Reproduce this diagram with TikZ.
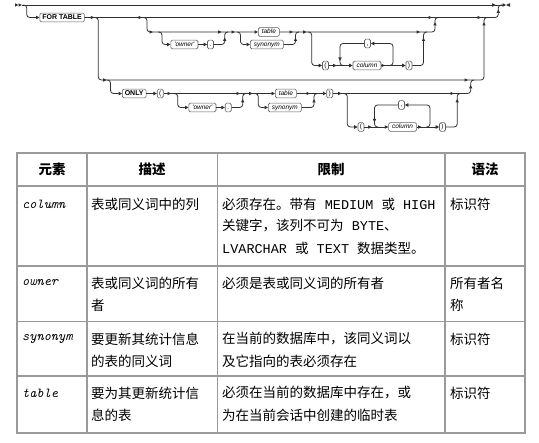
\documentclass[tikz,border=0pt]{standalone}
\usepackage{fontspec}
\newfontfamily\cjk{Noto Sans CJK SC}
\newfontfamily\diag{Liberation Sans}
\newfontfamily\latmono{Liberation Mono}
\usetikzlibrary{arrows.meta}
\definecolor{ln}{HTML}{303030}
\definecolor{boxc}{HTML}{606060}
\definecolor{grid}{HTML}{9A9A9A}
\newcommand{\lat}[1]{{\latmono\relax#1}}
\begin{document}
\begin{tikzpicture}[x=1pt,y=-1pt,
  rail/.style={draw=ln,line width=0.8pt,rounded corners=3pt},
  feed/.style={rail,-{Triangle[length=3.5pt,width=3.4pt]}},
  kw/.style={draw=boxc,line width=0.6pt,rounded corners=1.5pt,fill=white,
    font=\diag\bfseries\fontsize{7}{8}\selectfont,inner xsep=2.5pt,inner ysep=1.3pt,
    text height=5pt,text depth=1.2pt},
  var/.style={kw,font=\diag\itshape\fontsize{6.5}{8}\selectfont,inner xsep=3.5pt},
  sym/.style={kw,font=\diag\fontsize{6.5}{8}\selectfont,inner xsep=1pt,minimum width=6pt},
  rt/.pic={\fill[ln] (0,0) -- (-3.5pt,1.7pt) -- (-3.5pt,-1.7pt) -- cycle;},
  hd/.style={inner sep=0pt,font=\cjk\bfseries\fontsize{13.5}{16}\selectfont},
  txt/.style={anchor=west,inner sep=0pt,font=\cjk\fontsize{13.5}{16}\selectfont},
  elem/.style={anchor=west,inner sep=0pt,font=\ttfamily\itshape\fontsize{13.7}{16}\selectfont},
  cell/.style={draw=grid,line width=1.3pt}]
  \fill[white] (0,0) rectangle (539,443);
  \useasboundingbox (0,0) rectangle (539,443);
  % syntax diagram
  \node[kw,anchor=west] (ft) at (39.5,17.5) {FOR TABLE};
  \node[var,anchor=west] (own1) at (170.5,44.5) {\textquotesingle owner\textquotesingle};
  \node[sym] (dot1) at (210.5,44.5) {.};
  \node[var,anchor=west] (tab1) at (258,32) {table};
  \node[var,anchor=west] (syn1) at (250,44.5) {synonym};
  \node[sym] (lp1) at (325.5,65.5) {(};
  \node[var,anchor=west] (col1) at (352.7,65.5) {column};
  \node[sym] (cm1) at (367.5,43.5) {,};
  \node[sym] (rp1) at (409,65.5) {)};
  \node[kw,anchor=west] (only) at (122,93.5) {ONLY};
  \node[sym] (lp2) at (160.2,93.5) {(};
  \node[var,anchor=west] (own2) at (188.5,107.5) {\textquotesingle owner\textquotesingle};
  \node[sym] (dot2) at (228.2,107.5) {.};
  \node[var,anchor=west] (tab2) at (275,93.5) {table};
  \node[var,anchor=west] (syn2) at (268,107.5) {synonym};
  \node[sym] (rp2) at (329.7,93.5) {)};
  \node[sym] (lp3) at (361,127) {(};
  \node[var,anchor=west] (col2) at (388.3,127) {column};
  \node[sym] (cm2) at (401.5,105) {,};
  \node[sym] (rp3) at (442.5,127) {)};
  % main line
  \pic at (18.5,5) {rt};
  \pic at (22,5) {rt};
  \draw[feed] (22,5) -- (506,5);
  \fill[ln] (506,5) -- (510,3.2) -- (510,6.8) -- cycle;
  \draw[feed] (23,5) -- (26.7,5) -- (26.7,17.5) -- (ft.west);
  \draw[rail] (ft.east) -- (498.3,17.5) -- (498.3,5) -- (502,5);
  % table or synonym
  \draw[feed] (143,17.5) -- (147,17.5) -- (147,32) -- (tab1.west);
  \draw[feed] (158,32) -- (162,32) -- (162,44.5) -- (own1.west);
  \draw[feed] (own1.east) -- (dot1.west);
  \draw[rail] (dot1.east) -- (224.7,44.5) -- (224.7,32) -- (228,32);
  \draw[feed] (237,32) -- (240.5,32) -- (240.5,44.5) -- (syn1.west);
  \draw[rail] (tab1.east) -- (435,32) -- (435,17.5) -- (438,17.5);
  \draw[rail] (syn1.east) -- (295.5,44.5) -- (295.5,32) -- (299,32);
  \draw[feed] (308,32) -- (311.7,32) -- (311.7,65.5) -- (lp1.west);
  \draw[feed] (lp1.east) -- (col1.west);
  \draw[feed] (col1.east) -- (rp1.west);
  \draw[feed] (389,65.5) -- (393,65.5) -- (393,43.5) -- (cm1.east);
  \draw[rail] (cm1.west) -- (340,43.5) -- (340,65.5) -- (344,65.5);
  \draw[rail] (rp1.east) -- (423.5,65.5) -- (423.5,32) -- (427,32);
  % ONLY
  \draw[rail] (95,17.5) -- (98.3,17.5) -- (98.3,80) -- (484,80) -- (484,17.5) -- (487,17.5);
  \draw[feed] (107,80) -- (110.5,80) -- (110.5,93.5) -- (only.west);
  \draw[feed] (only.east) -- (lp2.west);
  \draw[feed] (lp2.east) -- (tab2.west);
  \draw[feed] (174,93.5) -- (177.7,93.5) -- (177.7,107.5) -- (own2.west);
  \draw[feed] (own2.east) -- (dot2.west);
  \draw[rail] (dot2.east) -- (242.7,107.5) -- (242.7,93.5) -- (246,93.5);
  \draw[feed] (255,93.5) -- (258.3,93.5) -- (258.3,107.5) -- (syn2.west);
  \draw[feed] (tab2.east) -- (rp2.west);
  \draw[rail] (syn2.east) -- (314,107.5) -- (314,93.5) -- (317,93.5);
  \draw[rail] (rp2.east) -- (470.7,93.5) -- (470.7,80) -- (474,80);
  \draw[feed] (344,93.5) -- (347.3,93.5) -- (347.3,127) -- (lp3.west);
  \draw[feed] (lp3.east) -- (col2.west);
  \draw[feed] (col2.east) -- (rp3.west);
  \draw[feed] (426,127) -- (430,127) -- (430,105) -- (cm2.east);
  \draw[rail] (cm2.west) -- (374.5,105) -- (374.5,127) -- (378,127);
  \draw[rail] (rp3.east) -- (457.2,127) -- (457.2,93.5) -- (460.5,93.5);
  % arrow marks along the lines
  \foreach \p in {(94.3,17.5),(142,17.5),(432,17.5),(481,17.5),(495.7,5),
    (153,32),(221.7,32),(235,32),(293,32),(306.7,32),(420,32),
    (336.7,65.5),(385,65.5),(106.7,80),(468,80),
    (171,93.5),(240,93.5),(252.7,93.5),(310,93.5),(341.7,93.5),(454,93.5),
    (371.7,127),(421.7,127)}
    \pic at \p {rt};
  \foreach \p in {(498.3,9.5),(435,22),(484,22),(224.7,37.5),(295.5,37.5),
    (423.5,37.5),(470.7,85),(242.7,99),(314,99),(457.2,99)}
    \pic[rotate=90] at \p {rt};
  \pic[rotate=-90] at (340,61) {rt};
  \pic[rotate=-90] at (374.5,122.5) {rt};
  % table
  \draw[cell] (17,153) rectangle (525,433);
  \draw[cell] (17,186) -- (525,186);
  \draw[cell] (17,266) -- (525,266);
  \draw[cell] (17,321.5) -- (525,321.5);
  \draw[cell] (17,376) -- (525,376);
  \draw[cell] (87,153) -- (87,433);
  \draw[cell] (217.5,153) -- (217.5,433);
  \draw[cell] (445,153) -- (445,433);
  \node[hd] (h1) at (52,169.5) {元素};
  \node[hd] (h2) at (152,169.5) {描述};
  \node[hd] (h3) at (331,169.5) {限制};
  \node[hd] (h4) at (485,169.5) {语法};
  \node[elem] (e1) at (22,204) {column};
  \node[txt] (d1) at (91,204) {表或同义词中的列};
  \node[txt] (r1a) at (222,204) {必须存在。带有\lat{\ MEDIUM\ }或\lat{\ HIGH}};
  \node[txt] (r1b) at (222,226) {关键字，该列不可为\lat{\ BYTE}、};
  \node[txt] (r1c) at (222,248) {\lat{LVARCHAR\ }或\lat{\ TEXT\ }数据类型。};
  \node[txt] (s1) at (450,204) {标识符};
  \node[elem] (e2) at (22,283) {owner};
  \node[txt] (d2a) at (91,283) {表或同义词的所有};
  \node[txt] (d2b) at (91,305) {者};
  \node[txt] (r2) at (222,283) {必须是表或同义词的所有者};
  \node[txt] (s2a) at (450,283) {所有者名};
  \node[txt] (s2b) at (450,305) {称};
  \node[elem] (e3) at (22,339) {synonym};
  \node[txt] (d3a) at (91,339) {要更新其统计信息};
  \node[txt] (d3b) at (91,361) {的表的同义词};
  \node[txt] (r3a) at (222,339) {在当前的数据库中，该同义词以};
  \node[txt] (r3b) at (222,361) {及它指向的表必须存在};
  \node[txt] (s3) at (450,339) {标识符};
  \node[elem] (e4) at (22,393) {table};
  \node[txt] (d4a) at (91,393) {要为其更新统计信};
  \node[txt] (d4b) at (91,415) {息的表};
  \node[txt] (r4a) at (222,393) {必须在当前的数据库中存在，或};
  \node[txt] (r4b) at (222,415) {为在当前会话中创建的临时表};
  \node[txt] (s4) at (450,393) {标识符};
\end{tikzpicture}
\end{document}
